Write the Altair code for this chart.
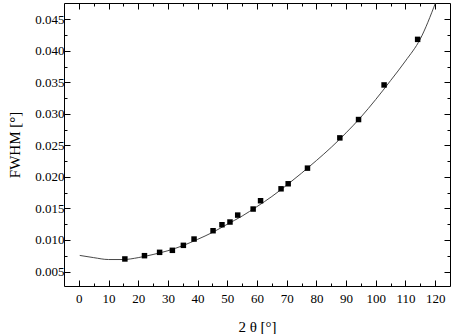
import altair as alt
import pandas as pd

# measured points (2θ in degrees, FWHM in degrees)
theta2 = [15.5, 22.1, 27.2, 31.5, 35.2, 38.8, 45.2, 48.2, 50.9, 53.5,
          58.7, 61.2, 68.1, 70.5, 77.0, 87.9, 94.2, 102.8, 114.1]
fwhm = [0.00699, 0.00751, 0.00804, 0.00836, 0.00915, 0.01015, 0.01147, 0.01242,
        0.01285, 0.01395, 0.01491, 0.01623, 0.01812, 0.01892, 0.02140, 0.02620,
        0.02911, 0.03460, 0.04183]

# fitted curve
fit_x = [0.3, 5, 10, 15, 20, 25, 30, 35, 40, 45, 50, 55, 60, 65, 70, 75, 80,
         85, 90, 95, 100, 105, 110, 115, 120.1]
fit_y = [0.00755, 0.0072, 0.0069, 0.0069, 0.0072, 0.0077, 0.0083, 0.0091, 0.0101,
         0.0112, 0.0125, 0.0138, 0.0153, 0.0169, 0.0187, 0.0206, 0.0226, 0.0247,
         0.0270, 0.0295, 0.0323, 0.0353, 0.0384, 0.0419, 0.0476]

x_ticks = list(range(0, 125, 5))
y_ticks = [round(0.0025 * i, 4) for i in range(2, 19)]

pts = pd.DataFrame({"x": theta2, "y": fwhm})
fit = pd.DataFrame({"x": fit_x, "y": fit_y})

xdom = [-5, 125]
ydom = [0.0027, 0.0476]
FONT = "Liberation Serif"

x_major = "datum.value % 10 === 0"
y_major = "round(datum.value * 10000) % 50 === 0"


def xaxis(orient, labels):
    return alt.Axis(
        orient=orient, values=x_ticks, labels=labels,
        labelExpr=f"{x_major} ? datum.label : ''",
        tickSize=alt.ExprRef(expr=f"({x_major}) ? -6 : -3"),
        tickColor="black", tickWidth=1, domainColor="black", domainWidth=1,
        grid=False, labelFont=FONT, labelFontSize=13, labelColor="black",
        labelPadding=12, title="2 θ [°]" if labels else None,
        titleFont=FONT, titleFontSize=15, titleFontWeight="normal",
        titleColor="black", titlePadding=14,
    )


def yaxis(orient, labels):
    return alt.Axis(
        orient=orient, values=y_ticks, labels=labels,
        labelExpr=f"{y_major} ? format(datum.value, '.3f') : ''",
        tickSize=alt.ExprRef(expr=f"({y_major}) ? -6 : -3"),
        tickColor="black", tickWidth=1, domainColor="black", domainWidth=1,
        grid=False, labelFont=FONT, labelFontSize=13, labelColor="black",
        labelPadding=6, title="FWHM [°]" if labels else None,
        titleFont=FONT, titleFontSize=15, titleFontWeight="normal",
        titleColor="black", titlePadding=12,
    )


line = alt.Chart(fit).mark_line(color="#333333", strokeWidth=0.9, interpolate="monotone").encode(
    x=alt.X("x:Q", scale=alt.Scale(domain=xdom, nice=False, zero=False), axis=xaxis("top", False)),
    y=alt.Y("y:Q", scale=alt.Scale(domain=ydom, nice=False, zero=False), axis=yaxis("right", False)),
)

points = alt.Chart(pts).mark_point(shape="square", filled=True, color="black", size=30, opacity=1).encode(
    x=alt.X("x:Q", scale=alt.Scale(domain=xdom, nice=False, zero=False), axis=xaxis("bottom", True)),
    y=alt.Y("y:Q", scale=alt.Scale(domain=ydom, nice=False, zero=False), axis=yaxis("left", True)),
)

chart = alt.layer(line, points).resolve_scale(x="independent", y="independent").properties(
    width=386, height=283,
    autosize=alt.AutoSizeParams(type="none"),
    padding={"left": 64, "top": 3, "right": 3, "bottom": 48},
).configure_view(stroke="black", strokeWidth=1).configure(background="white")

chart.save("out.html", embed_options={"renderer": "svg", "actions": False})
